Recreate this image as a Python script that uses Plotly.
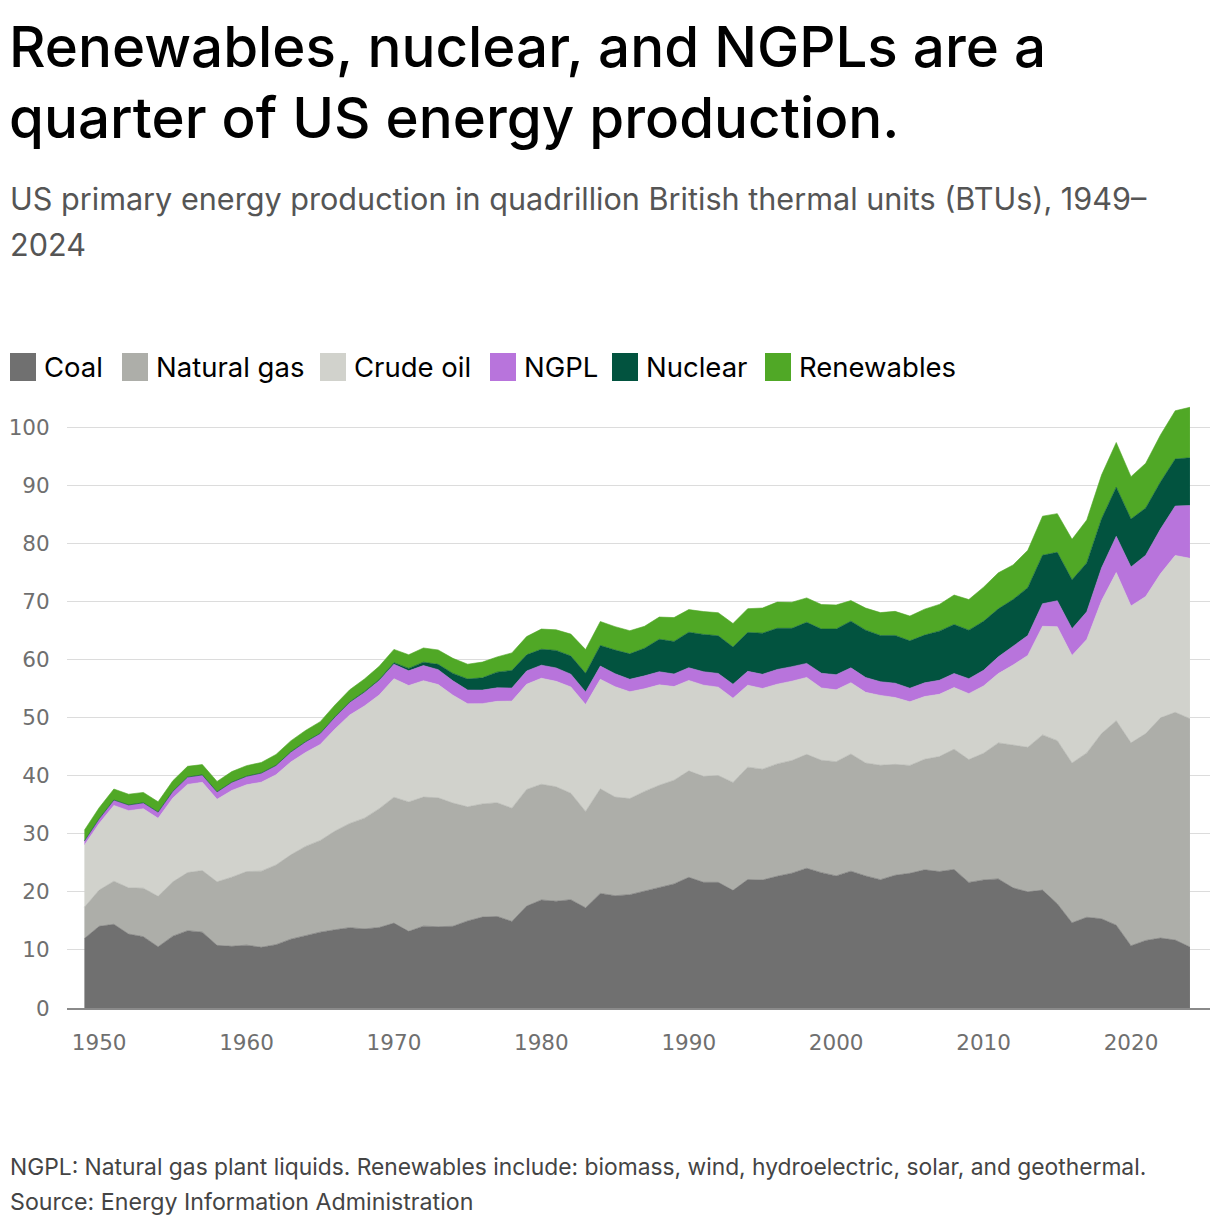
import plotly.graph_objects as go

years = list(range(1949, 2025))

coal = [11.97, 14.06, 14.41, 12.73, 12.28, 10.54, 12.37, 13.31, 13.06, 10.78,
        10.62, 10.82, 10.45, 10.90, 11.85, 12.52, 13.06, 13.47, 13.83, 13.61,
        13.86, 14.61, 13.19, 14.09, 13.99, 14.07, 14.99, 15.65, 15.76, 14.91,
        17.54, 18.60, 18.38, 18.64, 17.25, 19.72, 19.33, 19.51, 20.14, 20.74,
        21.36, 22.49, 21.64, 21.63, 20.25, 22.11, 22.03, 22.68, 23.21, 24.05,
        23.30, 22.74, 23.55, 22.73, 22.09, 22.85, 23.19, 23.79, 23.49, 23.85,
        21.62, 22.04, 22.22, 20.68, 19.99, 20.29, 17.95, 14.67, 15.62, 15.36,
        14.26, 10.71, 11.63, 12.04, 11.70, 10.50]

natural_gas = [5.38, 6.23, 7.42, 7.96, 8.34, 8.68, 9.35, 10.00, 10.60, 10.94,
               11.90, 12.66, 13.11, 13.72, 14.51, 15.30, 15.78, 16.99, 17.94, 19.07,
               20.45, 21.67, 22.28, 22.21, 22.19, 21.21, 19.64, 19.48, 19.57, 19.49,
               20.08, 19.91, 19.70, 18.32, 16.59, 18.01, 16.98, 16.54, 17.14, 17.60,
               17.85, 18.33, 18.23, 18.38, 18.58, 19.35, 19.08, 19.34, 19.39, 19.61,
               19.34, 19.66, 20.17, 19.44, 19.69, 19.09, 18.56, 19.02, 19.79, 20.70,
               21.14, 21.81, 23.41, 24.59, 24.89, 26.72, 28.07, 27.50, 28.29, 31.88,
               35.19, 34.93, 35.60, 37.90, 39.20, 39.30]

crude_oil = [10.68, 11.45, 13.04, 13.28, 13.67, 13.43, 14.41, 15.18, 15.18, 14.20,
             14.93, 14.94, 15.31, 15.52, 15.97, 16.16, 16.52, 17.56, 18.65, 19.31,
             19.56, 20.40, 20.03, 20.04, 19.49, 18.57, 17.73, 17.26, 17.45, 18.43,
             18.10, 18.25, 18.15, 18.31, 18.39, 18.85, 18.99, 18.38, 17.67, 17.28,
             16.12, 15.57, 15.70, 15.22, 14.49, 14.10, 13.89, 13.72, 13.66, 13.24,
             12.45, 12.36, 12.28, 12.16, 12.03, 11.50, 10.96, 10.80, 10.72, 10.61,
             11.35, 11.59, 11.93, 13.77, 15.81, 18.69, 19.61, 18.52, 19.53, 22.85,
             25.50, 23.57, 23.60, 24.80, 27.00, 27.60]

ngpl = [0.71, 0.82, 0.93, 0.98, 1.03, 1.07, 1.17, 1.26, 1.28, 1.28,
        1.41, 1.46, 1.55, 1.59, 1.71, 1.80, 1.88, 2.03, 2.16, 2.32,
        2.49, 2.51, 2.54, 2.60, 2.57, 2.47, 2.37, 2.33, 2.33, 2.25,
        2.29, 2.25, 2.31, 2.19, 2.18, 2.27, 2.24, 2.15, 2.22, 2.26,
        2.16, 2.18, 2.31, 2.36, 2.41, 2.39, 2.44, 2.53, 2.50, 2.42,
        2.53, 2.61, 2.55, 2.56, 2.35, 2.47, 2.33, 2.36, 2.41, 2.42,
        2.57, 2.69, 2.88, 3.21, 3.42, 3.89, 4.47, 4.59, 4.76, 5.64,
        6.24, 6.70, 7.10, 7.70, 8.50, 9.10]

nuclear = [0.0, 0.0, 0.0, 0.0, 0.0, 0.0, 0.0, 0.0, 0.001, 0.002,
           0.002, 0.006, 0.020, 0.026, 0.038, 0.040, 0.043, 0.064, 0.088, 0.142,
           0.154, 0.239, 0.413, 0.584, 0.910, 1.272, 1.900, 2.111, 2.702, 3.024,
           2.776, 2.739, 3.008, 3.131, 3.203, 3.553, 4.076, 4.380, 4.754, 5.587,
           5.602, 6.104, 6.422, 6.479, 6.410, 6.694, 7.075, 7.087, 6.597, 7.068,
           7.610, 7.862, 8.029, 8.145, 7.959, 8.222, 8.161, 8.215, 8.459, 8.426,
           8.355, 8.434, 8.269, 8.062, 8.244, 8.338, 8.337, 8.427, 8.419, 8.438,
           8.452, 8.251, 8.131, 8.100, 8.100, 8.200]

renewables = [1.87, 1.91, 1.89, 1.85, 1.79, 1.77, 1.82, 1.85, 1.78, 1.80,
              1.83, 1.83, 1.82, 1.89, 1.90, 1.95, 2.01, 2.05, 2.11, 2.19,
              2.30, 2.30, 2.35, 2.45, 2.48, 2.59, 2.55, 2.71, 2.62, 3.02,
              3.14, 3.48, 3.55, 3.77, 4.09, 4.12, 4.03, 3.98, 3.78, 3.83,
              4.11, 3.90, 3.94, 3.97, 4.04, 4.09, 4.33, 4.51, 4.49, 4.20,
              4.22, 4.14, 3.55, 3.80, 3.94, 4.14, 4.26, 4.47, 4.60, 5.08,
              5.27, 5.88, 6.19, 5.95, 6.43, 6.73, 6.66, 6.97, 7.39, 7.56,
              7.70, 7.30, 7.70, 8.10, 8.30, 8.70]

series_names = ["Coal", "Natural gas", "Crude oil", "NGPL", "Nuclear", "Renewables"]
series_values = [coal, natural_gas, crude_oil, ngpl, nuclear, renewables]
series_colors = ["#707070", "#adaea9", "#d1d2cc", "#b874dc", "#02533f", "#50a826"]

y_ticks = [0, 10, 20, 30, 40, 50, 60, 70, 80, 90, 100]
x_ticks = [1950, 1960, 1970, 1980, 1990, 2000, 2010, 2020]

fig = go.Figure()
for name, vals, col in zip(series_names, series_values, series_colors):
    fig.add_trace(go.Scatter(
        x=years, y=vals, name=name, mode="lines",
        stackgroup="energy", line=dict(width=0.6, color=col),
        fillcolor=col, showlegend=False,
        hovertemplate="%{x}: %{y:.2f}<extra>" + name + "</extra>",
    ))

# layout geometry (pixels)
W, H = 1220, 1230
L, R, T, B = 67, 10, 398, 222
PW = W - L - R
PH = H - T - B


def px(xp):
    return (xp - L) / PW


def py(yp):
    return (H - B - yp) / PH


FONT = "Inter, 'Noto Sans', sans-serif"
TICKFONT = "'DejaVu Sans', Inter, sans-serif"
annotations = []
shapes = []

# title
annotations.append(dict(text="Renewables, nuclear, and NGPLs are a", x=px(7), y=py(46),
                        xref="paper", yref="paper", xanchor="left", yanchor="middle",
                        showarrow=False, font=dict(family=FONT, size=56.5, color="#000000", weight=500)))
annotations.append(dict(text="quarter of US energy production.", x=px(7), y=py(117),
                        xref="paper", yref="paper", xanchor="left", yanchor="middle",
                        showarrow=False, font=dict(family=FONT, size=56.5, color="#000000", weight=500)))
# subtitle
annotations.append(dict(text="US primary energy production in quadrillion British thermal units (BTUs), 1949\u2013",
                        x=px(8), y=py(198), xref="paper", yref="paper", xanchor="left", yanchor="middle",
                        showarrow=False, font=dict(family=FONT, size=30.6, color="#555555")))
annotations.append(dict(text="2024", x=px(8), y=py(244), xref="paper", yref="paper",
                        xanchor="left", yanchor="middle",
                        showarrow=False, font=dict(family=FONT, size=30.6, color="#555555")))

# legend (manual)
legend_left = [10, 122, 320, 490, 612, 765]
for name, col, lx in zip(series_names, series_colors, legend_left):
    shapes.append(dict(type="rect", xref="paper", yref="paper",
                       x0=px(lx), x1=px(lx + 26), y0=py(381), y1=py(353),
                       fillcolor=col, line=dict(width=0)))
    annotations.append(dict(text=name, x=px(lx + 32), y=py(367), xref="paper", yref="paper",
                            xanchor="left", yanchor="middle", showarrow=False,
                            font=dict(family=FONT, size=27.5, color="#000000")))

# footer
annotations.append(dict(text="NGPL: Natural gas plant liquids. Renewables include: biomass, wind, hydroelectric, solar, and geothermal.",
                        x=px(8), y=py(1166), xref="paper", yref="paper", xanchor="left", yanchor="middle",
                        showarrow=False, font=dict(family=FONT, size=22.8, color="#444444")))
annotations.append(dict(text="Source: Energy Information Administration",
                        x=px(8), y=py(1202), xref="paper", yref="paper", xanchor="left", yanchor="middle",
                        showarrow=False, font=dict(family=FONT, size=23.2, color="#444444")))

fig.update_layout(
    width=W, height=H,
    margin=dict(l=L, r=R, t=T, b=B),
    paper_bgcolor="#ffffff", plot_bgcolor="#ffffff",
    font=dict(family=FONT, color="#6f6f6f"),
    annotations=annotations, shapes=shapes,
    showlegend=False,
    xaxis=dict(range=[1947.82, 2025.36], tickvals=x_ticks, showgrid=False,
               showline=True, linecolor="#8a8a8a", linewidth=2,
               ticks="outside", ticklen=14, tickcolor="rgba(0,0,0,0)",
               tickfont=dict(family=TICKFONT, size=21.5, color="#6f6f6f"), zeroline=False,
               fixedrange=True),
    yaxis=dict(range=[0, 105], tickvals=y_ticks, showgrid=True, gridcolor="#dcdcdc",
               gridwidth=1, zeroline=False, showline=False,
               ticks="outside", ticklen=12, tickcolor="rgba(0,0,0,0)",
               tickfont=dict(family=TICKFONT, size=21.5, color="#6f6f6f"), fixedrange=True),
)

fig.write_html("out.html")
